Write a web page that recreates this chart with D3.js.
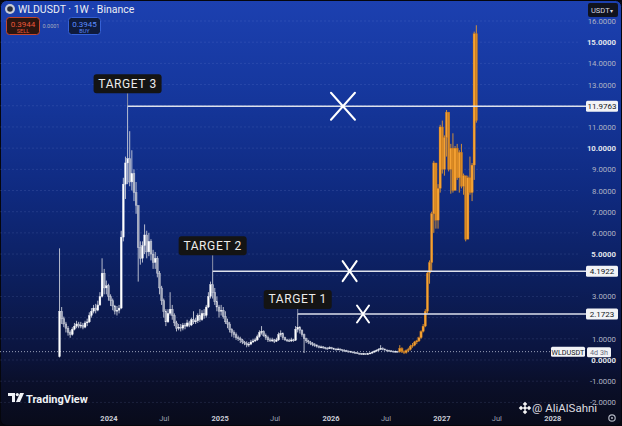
<!DOCTYPE html>
<html><head><meta charset="utf-8">
<script src="https://cdn.jsdelivr.net/npm/d3@7/dist/d3.min.js"></script>
<style>
html,body{margin:0;padding:0;background:#06070f;}
svg{display:block;}
text{font-family:Roboto,"Noto Sans",sans-serif;}
</style></head><body>
<svg id="c" width="622" height="426"></svg>
<script>
// ---------------- DATA ----------------
const symbolTitle = "WLDUSDT · 1W · Binance";
const startWeek = "2023-07-24";
const firstOpen = 0.16;
// weekly candles (historical)
const closes = [2.3,1.95,1.7,1.5,1.3,1.2,1.45,1.6,1.7,1.6,1.65,1.55,1.75,1.8,2.1,2.3,2.45,2.35,2.6,3.0,
4.1,3.4,3.5,3.0,2.8,2.55,2.3,2.35,2.45,5.8,8.3,9.3,9.5,8.4,8.8,7.9,7.3,5.3,4.8,5.4,
5.9,5.1,5.6,5.0,4.6,4.8,4.1,3.4,2.8,2.3,1.8,2.2,2.4,2.1,1.75,1.5,1.55,1.5,1.65,1.6,
1.75,1.65,1.9,1.8,1.85,2.1,1.9,2.2,2.1,2.5,3.0,3.55,3.2,2.75,2.5,2.3,2.35,2.05,1.8,1.7,
1.45,1.3,1.2,1.05,1.0,0.95,0.85,0.8,0.72,0.75,0.85,0.9,0.95,1.1,1.3,1.35,1.15,1.05,0.95,0.9,
0.95,0.88,0.95,1.2,1.25,1.05,0.95,0.92,0.9,0.95,0.93,1.45,1.55,1.4,1.2,1.0,0.9,0.85,0.78,0.72,
0.7,0.64,0.6,0.62,0.58,0.56,0.55,0.58,0.54,0.52,0.5,0.52,0.48,0.46,0.44,0.42,0.4,0.38,0.36,0.34,
0.32,0.3,0.29,0.3,0.28,0.3,0.33,0.37,0.42,0.46,0.5,0.55,0.52,0.47,0.45,0.43,0.42,0.4,0.41,0.3945];
const highs = [5.27,2.5,2.05,1.8,1.6,1.4,1.55,1.75,1.85,1.8,1.8,1.75,1.85,1.95,2.25,2.45,2.6,2.65,2.8,3.2,
4.8,4.3,3.75,3.6,3.1,2.9,2.6,2.55,2.6,6.1,8.6,9.6,11.9763,10.8,9.9,9.0,8.4,7.2,5.6,5.6,
6.4,6.1,6.0,5.7,5.2,5.1,4.9,4.2,3.5,2.9,2.4,2.4,3.2,2.6,2.2,1.85,1.7,1.7,1.75,1.75,
1.9,1.85,2.0,2.3,2.0,2.2,2.4,2.35,2.4,2.6,3.2,3.7,4.1922,3.4,3.0,2.6,2.6,2.5,2.3,1.95,
1.8,1.5,1.4,1.3,1.15,1.1,1.0,0.9,0.88,0.85,0.95,1.0,1.05,1.2,1.4,1.6,1.4,1.25,1.15,1.05,
1.05,1.0,1.05,1.3,1.4,1.3,1.1,1.0,1.0,1.05,1.0,1.6,2.1723,1.6,1.45,1.25,1.05,0.95,0.9,0.85,
0.8,0.75,0.7,0.68,0.65,0.62,0.6,0.64,0.62,0.58,0.56,0.58,0.54,0.5,0.5,0.48,0.45,0.43,0.41,0.38,
0.36,0.34,0.33,0.33,0.32,0.34,0.37,0.41,0.46,0.5,0.55,0.7,0.6,0.54,0.5,0.48,0.46,0.44,0.44,0.43];
const lows = [0.12,1.7,1.55,1.3,1.15,1.05,1.15,1.4,1.5,1.5,1.5,1.45,1.5,1.6,1.75,2.0,2.2,2.2,2.3,2.55,
2.95,3.1,3.1,2.8,2.55,2.35,2.15,2.1,2.2,2.4,5.6,7.6,8.3,8.2,8.0,7.5,6.9,3.7,4.5,4.6,
5.0,4.8,4.9,4.7,4.3,4.3,3.9,3.1,2.6,2.0,1.6,1.75,2.1,1.9,1.6,1.35,1.4,1.35,1.4,1.45,
1.55,1.55,1.6,1.7,1.7,1.75,1.8,1.85,1.95,2.0,2.45,2.9,2.9,2.6,2.3,2.0,2.1,1.95,1.7,1.5,
1.3,1.1,1.05,0.95,0.9,0.8,0.75,0.7,0.6,0.62,0.7,0.8,0.85,0.9,1.05,1.2,1.1,0.95,0.85,0.85,
0.85,0.8,0.85,0.9,1.1,0.95,0.9,0.85,0.85,0.85,0.86,0.9,1.3,1.25,1.1,0.33,0.8,0.75,0.7,0.65,
0.62,0.58,0.55,0.55,0.52,0.5,0.5,0.52,0.5,0.48,0.45,0.47,0.44,0.42,0.4,0.38,0.36,0.34,0.32,0.3,
0.28,0.26,0.25,0.26,0.24,0.26,0.28,0.31,0.35,0.4,0.44,0.48,0.46,0.44,0.41,0.4,0.38,0.37,0.37,0.36];
// projected candles (orange)
const projOpen = 0.3945;
const projCloses = [0.55,0.4,0.35,0.45,0.5,0.65,0.7,0.85,0.9,1.05,1.35,1.6,2.3,4.1,4.6,6.9,9.3,6.6,8.1,11.0,
9.0,10.5,11.7,9.0,10.0,8.0,10.0,8.6,9.8,8.2,8.7,5.7,8.6,7.9,9.2,15.4,11.3];
const projHighs = [0.7,0.6,0.45,0.5,0.58,0.72,0.8,0.9,0.95,1.1,1.4,1.7,2.4,4.2,4.7,7.0,9.4,9.1,8.3,11.1,
11.3,10.6,11.8,11.5,10.2,10.7,10.1,10.2,9.9,10.2,8.8,8.5,8.7,9.6,9.3,15.5,15.8];
const projLows = [0.35,0.33,0.28,0.3,0.4,0.45,0.58,0.65,0.75,0.85,1.0,1.3,1.55,2.2,3.6,4.2,6.0,6.2,6.2,7.9,
8.8,8.7,9.6,8.9,7.85,7.9,8.1,8.5,7.9,8.1,7.8,5.6,6.2,7.8,7.5,8.5,11.2];
// targets
const targetLabels = ["TARGET 3","TARGET 2","TARGET 1"];
const targetPrices = [11.9763,4.1922,2.1723];
const targetDates = ["2024-03-04","2024-12-09","2025-09-15"];
const crossDates = ["2026-02-11","2026-03-05","2026-04-18"];
const crossSizes = [[24,27],[14,20],[12,17]];
// axes
const priceTicks = [-2,-1,0,1,2,3,4,5,6,7,8,9,10,11,12,13,14,15,16];
const timeTicks = ["2024-01-01","2024-07-01","2025-01-01","2025-07-01","2026-01-01","2026-07-01","2027-01-01","2027-07-01","2028-01-01"];
const timeTickLabels = ["2024","Jul","2025","Jul","2026","Jul","2027","Jul","2028"];
const lastPrice = 0.3945;
const sellPrice = "0.3944", buyPrice = "0.3945", spread = "0.0001";
const countdown = "4d 3h";
const watermark = "@ AliAlSahni";

// ---------------- SCALES ----------------
const W = 622, H = 426;
const parse = d3.utcParse("%Y-%m-%d");
const x = d3.scaleUtc().domain([parse("2023-01-09"), parse("2028-01-10")]).range([0, 555]);
const y = d3.scaleLinear().domain([0, 16]).range([360, 21]);

const svg = d3.select("#c");
const defs = svg.append("defs");
const bg = defs.append("linearGradient").attr("id","bg").attr("x1",0).attr("y1",0).attr("x2",0).attr("y2",1);
[[0,"#1c40b0"],[0.2,"#16389f"],[0.45,"#0f2a80"],[0.65,"#0c1f5e"],[0.82,"#0b1540"],[0.9,"#0a0f2a"],[1,"#090b1a"]]
  .forEach(([o,c]) => bg.append("stop").attr("offset",o).attr("stop-color",c));
svg.append("rect").attr("x",0.5).attr("y",0.5).attr("width",W-1).attr("height",H-1).attr("rx",6)
  .attr("fill","url(#bg)").attr("stroke","#05060c").attr("stroke-width",1);

// grid
svg.append("g").selectAll("line").data(priceTicks).join("line")
  .attr("x1",0).attr("x2",578).attr("y1",d=>y(d)).attr("y2",d=>y(d))
  .attr("stroke","rgba(160,180,240,0.13)").attr("stroke-dasharray","2,2");

// right price axis (labels covered by price boxes are left out)
const yAxis = d3.axisRight(y).tickValues(priceTicks.filter(d=>d!==12&&d!==4&&d!==2)).tickSize(0)
  .tickFormat(d=>d3.format(".4f")(d).replace("−","-"));
const ya = svg.append("g").attr("transform","translate(616,0)").call(yAxis);
ya.select(".domain").remove();
ya.selectAll("text").attr("x",0).attr("text-anchor","end").attr("font-size",7.8)
  .attr("font-family","Roboto, sans-serif")
  .attr("fill",d=>d%5===0?"#e2e5ec":"#aeb3c4").attr("font-weight",d=>d%5===0?"bold":"normal");

// build candles
const t0 = parse(startWeek);
const hist = closes.map((c,i)=>({date:d3.utcWeek.offset(t0,i), o: i===0?firstOpen:closes[i-1], h:highs[i], l:lows[i], c}));
const proj = projCloses.map((c,i)=>({date:d3.utcWeek.offset(t0,closes.length+i), o: i===0?projOpen:projCloses[i-1], h:projHighs[i], l:projLows[i], c}));

// current price dotted line
svg.append("line").attr("x1",0).attr("x2",551).attr("y1",y(lastPrice)).attr("y2",y(lastPrice))
  .attr("stroke","#9aa0b8").attr("stroke-dasharray","1,2").attr("stroke-width",1);

function drawCandles(data, upFill, downFill, wickCol, stroke, bw){
  const g = svg.append("g");
  g.selectAll("line").data(data).join("line")
    .attr("x1",d=>x(d.date)).attr("x2",d=>x(d.date))
    .attr("y1",d=>y(d.h)).attr("y2",d=>y(d.l))
    .attr("stroke",wickCol).attr("stroke-width",0.9);
  g.selectAll("rect").data(data).join("rect")
    .attr("x",d=>x(d.date)-bw/2).attr("width",bw)
    .attr("y",d=>y(Math.max(d.o,d.c)))
    .attr("height",d=>Math.max(1,Math.abs(y(d.o)-y(d.c))))
    .attr("fill",d=>d.c>=d.o?upFill:downFill)
    .attr("stroke",stroke).attr("stroke-width",0.3);
}
drawCandles(hist,"#ffffff","#a4a9bc","#c9cdd9","#e8eaf2",1.9);
drawCandles(proj,"#f5a233","#d98a24","#e39a33","#c7731a",2.3);

// target lines, connectors, labels
targetLabels.forEach((lab,i)=>{
  const tx = x(parse(targetDates[i])), ty = y(targetPrices[i]);
  const boxW = 68, boxH = 19, boxY = ty - [32,35,24][i];
  svg.append("line").attr("x1",tx).attr("x2",tx).attr("y1",boxY+boxH).attr("y2",ty)
    .attr("stroke","#8c92a8").attr("stroke-width",1);
  svg.append("line").attr("x1",tx).attr("x2",586).attr("y1",ty).attr("y2",ty)
    .attr("stroke","#dde1ec").attr("stroke-width",1.6);
  svg.append("rect").attr("x",tx-boxW/2).attr("y",boxY).attr("width",boxW).attr("height",boxH).attr("rx",3)
    .attr("fill","#141414");
  svg.append("text").attr("x",tx).attr("y",boxY+13.5).attr("text-anchor","middle")
    .attr("fill","#ececec").attr("font-size",12).attr("letter-spacing",0.6).text(lab);
  // price box on axis
  svg.append("rect").attr("x",586).attr("y",ty-5.5).attr("width",32).attr("height",11).attr("rx",1.5).attr("fill","#f2f3f6");
  svg.append("text").attr("x",602).attr("y",ty+3).attr("text-anchor","middle").attr("fill","#131722")
    .attr("font-size",8).text(d3.format(".4f")(targetPrices[i]));
  // X mark
  const cx = x(parse(crossDates[i])), [sw,sh] = crossSizes[i];
  svg.append("path").attr("d",`M${cx-sw/2},${ty-sh/2}L${cx+sw/2},${ty+sh/2}M${cx+sw/2},${ty-sh/2}L${cx-sw/2},${ty+sh/2}`)
    .attr("stroke","#ffffff").attr("stroke-width",2).attr("stroke-linecap","round").attr("fill","none");
});

// bottom time axis
const xAxis = d3.axisBottom(x).tickValues(timeTicks.map(parse)).tickSize(0)
  .tickFormat((d,i)=>timeTickLabels[i]);
const xa = svg.append("g").attr("transform","translate(0,413)").call(xAxis);
xa.select(".domain").remove();
xa.selectAll("text").attr("font-size",7.5).attr("font-family","Roboto, sans-serif")
  .attr("fill",(d,i)=>timeTickLabels[i]==="Jul"?"#9ea3b3":"#c9ccd6").attr("font-weight",(d,i)=>timeTickLabels[i]==="Jul"?"normal":"bold");

// symbol label & countdown on axis
const ly = y(lastPrice);
svg.append("rect").attr("x",551).attr("y",ly-5).attr("width",34).attr("height",10).attr("rx",1.5).attr("fill","#f2f3f6");
svg.append("text").attr("x",568).attr("y",ly+3).attr("text-anchor","middle").attr("fill","#131722").attr("font-size",7.2).text("WLDUSDT");
svg.append("rect").attr("x",587).attr("y",ly-4.5).attr("width",24).attr("height",10).attr("rx",1.5).attr("fill","#f2f3f6");
svg.append("text").attr("x",599).attr("y",ly+3.3).attr("text-anchor","middle").attr("fill","#6a6f80").attr("font-size",7.2).text(countdown);

// header
svg.append("circle").attr("cx",10).attr("cy",9).attr("r",5).attr("fill","#c9ccd6");
svg.append("circle").attr("cx",10).attr("cy",9).attr("r",2.8).attr("fill","#2a2e3a");
svg.append("text").attr("x",18).attr("y",13).attr("fill","#eceef4").attr("font-size",10.5).text(symbolTitle);
svg.append("rect").attr("x",6.5).attr("y",17.5).attr("width",33).attr("height",17).attr("rx",3)
  .attr("fill","#2b150f").attr("stroke","#c4462f");
svg.append("text").attr("x",23).attr("y",26.5).attr("text-anchor","middle").attr("fill","#e8553a").attr("font-size",8).text(sellPrice);
svg.append("text").attr("x",23).attr("y",32.5).attr("text-anchor","middle").attr("fill","#e8553a").attr("font-size",5.5).text("SELL");
svg.append("text").attr("x",51).attr("y",28).attr("text-anchor","middle").attr("fill","#a8adbd").attr("font-size",5.5).text(spread);
svg.append("rect").attr("x",68.5).attr("y",17.5).attr("width",32).attr("height",17).attr("rx",3)
  .attr("fill","#0e1a3c").attr("stroke","#3561d6");
svg.append("text").attr("x",84.5).attr("y",26.5).attr("text-anchor","middle").attr("fill","#5b8cff").attr("font-size",8).text(buyPrice);
svg.append("text").attr("x",84.5).attr("y",32.5).attr("text-anchor","middle").attr("fill","#5b8cff").attr("font-size",5.5).text("BUY");

// USDT box
svg.append("rect").attr("x",588).attr("y",3).attr("width",30).attr("height",14).attr("rx",2).attr("fill","#10131f");
svg.append("text").attr("x",591).attr("y",13).attr("fill","#d8dae0").attr("font-size",7.5).text("USDT");
svg.append("text").attr("x",610).attr("y",12.5).attr("fill","#d8dae0").attr("font-size",6).text("▾");

// TradingView logo
const tv = svg.append("g").attr("transform","translate(8,393)");
tv.append("path").attr("d","M0,0H7V9H4V3H0Z").attr("fill","#f0f2f6");
tv.append("circle").attr("cx",9.3).attr("cy",1.6).attr("r",1.6).attr("fill","#f0f2f6");
tv.append("path").attr("d","M12,0H16L12,9H8Z").attr("fill","#f0f2f6");
svg.append("text").attr("x",26).attr("y",402.5).attr("fill","#f0f2f6").attr("font-size",11).attr("font-weight","bold").text("TradingView");

// watermark
const wm = svg.append("g").attr("transform","translate(525,408)");
[[0,-4],[-4,0],[4,0],[0,4],[0,0]].forEach(([dx,dy])=>wm.append("rect").attr("x",dx-1.6).attr("y",dy-1.6).attr("width",3.2).attr("height",3.2)
  .attr("transform",`rotate(45 ${dx} ${dy})`).attr("fill","#f2f2f2"));
svg.append("text").attr("x",532).attr("y",412).attr("fill","rgba(245,245,250,0.9)").attr("font-size",11.5).text(watermark);

// gear icon
svg.append("circle").attr("cx",612).attr("cy",418).attr("r",3.2).attr("fill","none").attr("stroke","#b0b4c0").attr("stroke-width",1.2);
svg.append("circle").attr("cx",612).attr("cy",418).attr("r",1).attr("fill","#b0b4c0");
</script>
</body></html>
